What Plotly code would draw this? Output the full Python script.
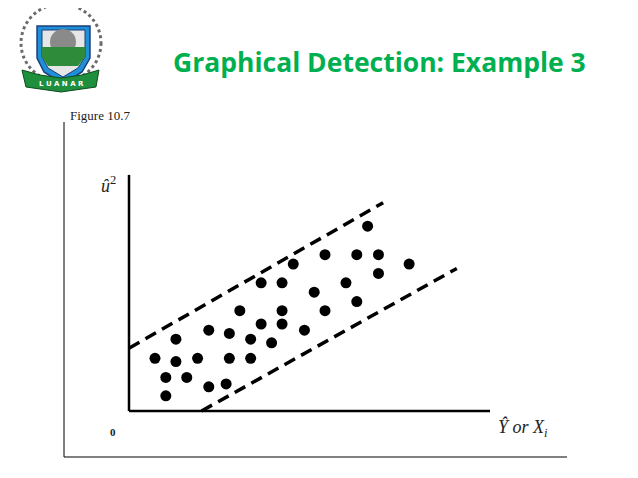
import plotly.graph_objects as go

W, H = 638, 478

# Pontos do gráfico de resíduos (unidades arbitrárias)
x_pontos = [7.2, 10.2, 10.2, 13.0, 13.0, 16.0, 19.0, 22.1, 22.1, 26.9, 27.8,
            27.8, 30.7, 33.7, 33.7, 36.6, 36.6, 39.5, 42.4, 42.4, 42.4, 45.5,
            48.6, 51.3, 54.3, 54.3, 60.1, 63.1, 63.1, 66.1, 69.1, 69.1, 77.6]
y_pontos = [14.6, 9.3, 4.2, 19.9, 13.7, 9.3, 14.6, 22.4, 6.7, 7.5, 21.5,
            14.6, 27.8, 19.9, 14.6, 35.5, 24.1, 18.9, 35.5, 27.8, 24.1, 40.7,
            22.4, 32.9, 43.3, 27.8, 35.5, 43.3, 30.3, 51.2, 43.3, 38.1, 40.7]

# Linhas tracejadas (limites superior e inferior)
x_sup = [0, 70.4]
y_sup = [17.4, 57.7]
x_inf = [20.1, 90.8]
y_inf = [0, 39.5]

# Comprimento dos eixos
x_max = 100
y_max = 65.4

titulo = 'Graphical Detection: Example 3'

# margem do body da página (8px) - compensação
OFF = 8
# Posição da origem em pixels e escala (px por unidade)
ox, oy, esc = 129 - OFF, 411 - OFF, 3.61


def P(x, y):
    # converte pixel da imagem -> coordenadas paper
    return (x - OFF) / W, 1 - (y - OFF) / H


fig = go.Figure()

fig.add_trace(go.Scatter(x=x_sup, y=y_sup, mode='lines',
                         line=dict(color='black', width=3.5, dash='12px,7px'),
                         hoverinfo='skip'))
fig.add_trace(go.Scatter(x=x_inf, y=y_inf, mode='lines',
                         line=dict(color='black', width=3.5, dash='12px,7px'),
                         hoverinfo='skip'))
fig.add_trace(go.Scatter(x=x_pontos, y=y_pontos, mode='markers',
                         marker=dict(color='black', size=11)))

shapes = []
# eixos
shapes.append(dict(type='line', xref='x', yref='y', x0=0, y0=0, x1=x_max, y1=0,
                   line=dict(color='black', width=2.5)))
shapes.append(dict(type='line', xref='x', yref='y', x0=0, y0=0, x1=0, y1=y_max,
                   line=dict(color='black', width=2.5)))
# moldura da figura
a = P(64, 122); b = P(64, 457); c = P(567, 457)
shapes.append(dict(type='line', xref='paper', yref='paper', x0=a[0], y0=a[1], x1=b[0], y1=b[1],
                   line=dict(color='black', width=1)))
shapes.append(dict(type='line', xref='paper', yref='paper', x0=b[0], y0=b[1], x1=c[0], y1=c[1],
                   line=dict(color='black', width=1)))


def caminho(pts):
    s = ''
    for i, (x, y) in enumerate(pts):
        px, py = P(x, y)
        s += ('M' if i == 0 else 'L') + f'{px:.4f},{py:.4f} '
    return s + 'Z'


# Logotipo (aproximação)
c0 = P(21, 4); c1 = P(101, 82)
shapes.append(dict(type='circle', xref='paper', yref='paper', x0=c0[0], y0=c0[1], x1=c1[0], y1=c1[1],
                   line=dict(color='#6b6b6b', width=3, dash='dot'), fillcolor='white'))
shapes.append(dict(type='path', xref='paper', yref='paper',
                   path=caminho([(37, 26), (90, 26), (90, 58), (82, 72), (63, 84), (44, 72), (37, 58)]),
                   fillcolor='#1f8fd8', line=dict(color='#1b3f7a', width=1.5)))
shapes.append(dict(type='path', xref='paper', yref='paper',
                   path=caminho([(42, 30), (85, 30), (85, 57), (78, 68), (63, 77), (48, 68), (42, 57)]),
                   fillcolor='#e6e6e6', line=dict(color='#1b3f7a', width=1)))
s0 = P(50, 29); s1 = P(76, 55)
shapes.append(dict(type='circle', xref='paper', yref='paper', x0=s0[0], y0=s0[1], x1=s1[0], y1=s1[1],
                   fillcolor='#8a8a8a', line=dict(width=0)))
shapes.append(dict(type='path', xref='paper', yref='paper',
                   path=caminho([(42, 47), (85, 47), (85, 57), (78, 66), (48, 66), (42, 57)]),
                   fillcolor='#2e8b3a', line=dict(width=0)))
shapes.append(dict(type='path', xref='paper', yref='paper',
                   path=caminho([(22, 70), (40, 75), (61, 78), (82, 75), (99, 70), (96, 87), (61, 92), (26, 87)]),
                   fillcolor='#1e8f3c', line=dict(color='#0d4d1e', width=1)))

fig.update_layout(shapes=shapes)


def texto(t, x, y, size, family, color='#222222', xa='center', weight='normal'):
    px, py = P(x, y)
    return dict(text=t, x=px, y=py, showarrow=False, xref='paper', yref='paper',
                xanchor=xa, yanchor='middle',
                font=dict(family=family, size=size, color=color, weight=weight))


anot = [
    texto(titulo, 379, 62, 26.5, 'Open Sans', color='#00b050', weight='bold'),
    texto('Figure 10.7', 68, 115, 13, 'Liberation Serif', xa='left'),
    texto('<i>û</i><sup>2</sup>', 99, 184, 18, 'Liberation Serif', xa='left'),
    texto('<b>0</b>', 113, 432, 11, 'Liberation Serif'),
    texto('<i>Ŷ or X</i><sub><i>i</i></sub>', 496, 428, 18, 'Liberation Serif', xa='left'),
    texto('<b>L U A N A R</b>', 61, 84, 7, 'DejaVu Sans', color='white'),
]
fig.update_layout(annotations=anot)

fig.update_layout(
    width=W, height=H,
    margin=dict(l=0, r=0, t=0, b=0),
    paper_bgcolor='white', plot_bgcolor='white',
    showlegend=False,
    xaxis=dict(range=[-ox / esc, (W - ox) / esc], visible=False, domain=[0, 1]),
    yaxis=dict(range=[(oy - H) / esc, oy / esc], visible=False, domain=[0, 1]),
)

fig.write_html('out.html')
